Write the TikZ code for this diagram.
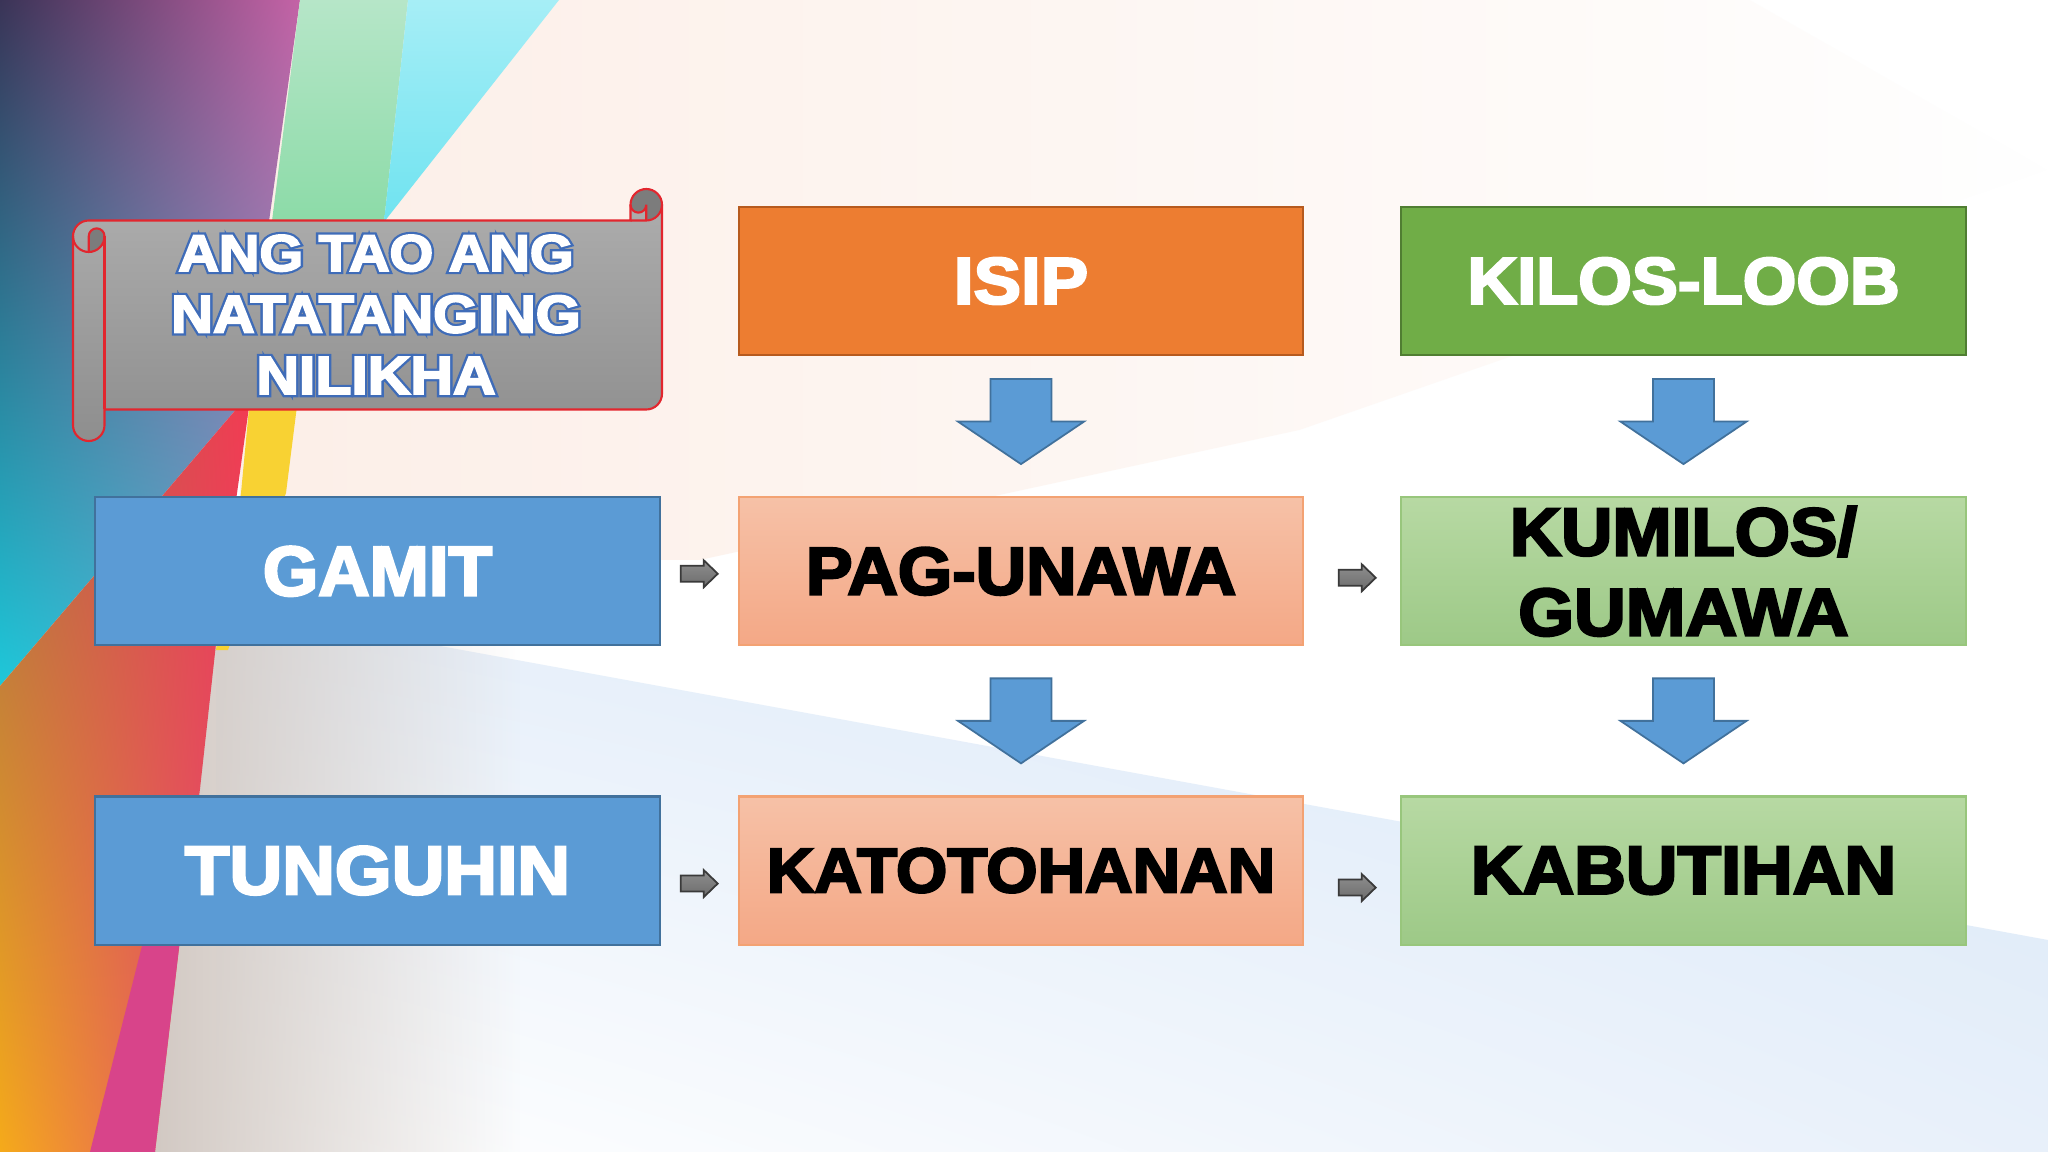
\documentclass[tikz,border=0pt]{standalone}
\usepackage{fontspec}
\usepackage{graphicx}
\usetikzlibrary{positioning, calc, fadings, shadings}
\newfontfamily\heavyfont{Liberation Sans Bold}[FakeBold=3.5]
\newfontfamily\outlinefont{Liberation Sans Bold}[FakeBold=12]
\newcommand{\fitword}[3]{\resizebox{#1}{#2}{\heavyfont #3}}
\newcommand{\outlineword}[3]{\makebox[0pt][l]{\textcolor{tituloguhit}{\resizebox{#1}{#2}{\outlinefont #3}}}\fitword{#1}{#2}{#3}}

\definecolor{isipkahel}{HTML}{ED7D31}
\definecolor{isipguhit}{HTML}{B65A1E}
\definecolor{loobberde}{HTML}{70AD47}
\definecolor{loobguhit}{HTML}{507E32}
\definecolor{gamitasul}{HTML}{5B9BD5}
\definecolor{gamitguhit}{HTML}{41719C}
\definecolor{unawataas}{HTML}{F6C1A7}
\definecolor{unawababa}{HTML}{F4A886}
\definecolor{unawaguhit}{HTML}{F3A273}
\definecolor{kilostaas}{HTML}{B7D9A3}
\definecolor{kilosbaba}{HTML}{9DC987}
\definecolor{kilosguhit}{HTML}{98C67C}
\definecolor{abotaas}{HTML}{8E8E8E}
\definecolor{abobaba}{HTML}{6C6C6C}
\definecolor{aboguhit}{HTML}{3A3A3A}
\definecolor{tituloguhit}{HTML}{3F6CB8}
\definecolor{balumbontaas}{HTML}{AEAEAE}
\definecolor{balumbonbaba}{HTML}{8E8E8E}
\definecolor{balumbonkulot}{HTML}{7C7C7C}
\definecolor{balumbonguhit}{HTML}{E2262E}
% background colours
\definecolor{bgnavy}{HTML}{3A3457}
\definecolor{bgmagenta}{HTML}{C463A6}
\definecolor{bgcyan}{HTML}{1EC8DA}
\definecolor{bgsteel}{HTML}{6FA0C8}
\definecolor{bggreenlight}{HTML}{B6E6C8}
\definecolor{bggreen}{HTML}{7DD79C}
\definecolor{bgcyanlight}{HTML}{A6EEF6}
\definecolor{bgcyanwedge}{HTML}{6FE3F0}
\definecolor{bgbrown}{HTML}{A8684A}
\definecolor{bgred}{HTML}{F23C52}
\definecolor{bgorange}{HTML}{F5AA1A}
\definecolor{bgpinkred}{HTML}{E0407A}
\definecolor{bgpink}{HTML}{D8448A}
\definecolor{bgyellow}{HTML}{F8D233}
\definecolor{bgpeach}{HTML}{FCEBE2}
\definecolor{bgblue}{HTML}{D8E7F7}
\definecolor{bgbluelight}{HTML}{E8F0FA}
\definecolor{bgbeige}{HTML}{D2C9C3}

\tikzset{kahon/.style={rectangle, draw, line width=0.6pt, minimum width=5.64cm, minimum height=1.48cm, inner sep=0pt},
	asul/.style={kahon, fill=gamitasul, draw=gamitguhit, text=white},
	kahel/.style={kahon, fill=isipkahel, draw=isipguhit, text=white},
	berde/.style={kahon, fill=loobberde, draw=loobguhit, text=white},
	malabkahel/.style={kahon, top color=unawataas, bottom color=unawababa, draw=unawaguhit, text=black},
	malabberde/.style={kahon, top color=kilostaas, bottom color=kilosbaba, draw=kilosguhit, text=black},
	pababa/.pic={\draw[fill=gamitasul, draw=gamitguhit, line width=0.5pt] (-30.5,-42.5) -- (30.5,-42.5) -- (30.5,0) -- (63,0) -- (0,42.5) -- (-63,0) -- (-30.5,0) -- cycle;},
	pakanan/.pic={\draw[top color=abotaas, bottom color=abobaba, draw=aboguhit, line width=0.5pt] (-18.5,-8) -- (4.5,-8) -- (4.5,-13.5) -- (18.5,0) -- (4.5,13.5) -- (4.5,8) -- (-18.5,8) -- cycle;} }

\begin{document}
\begin{tikzpicture}[x=0.01cm, y=-0.01cm]
	\useasboundingbox (0,0) rectangle (2048,1152);

	% background
	\fill[white] (0,0) rectangle (2048,1152);
	\fill[bgpeach, fill opacity=0.8, path fading=east] (240,0) -- (1750,0) -- (2048,170) -- (1300,430) -- (700,560) -- (240,560) -- cycle;
	\shade[upper left=bgbluelight, upper right=bgblue, lower left=white, lower right=bgbluelight] (216,605) -- (2048,940) -- (2048,1152) -- (216,1152) -- cycle;
	\fill[bgbeige, path fading=east] (205,640) -- (520,640) -- (520,1152) -- (155,1152) -- cycle;
	\shade[upper left=bgnavy, upper right=bgmagenta, lower left=bgcyan, lower right=bgsteel] (0,0) -- (300,0) -- (244,400) -- (0,686) -- cycle;
	\shade[top color=bggreenlight, bottom color=bggreen] (300,0) -- (408,0) -- (384,222) -- (375,300) -- (262,300) -- cycle;
	\shade[top color=bgcyanlight, bottom color=bgcyanwedge] (408,0) -- (559,0) -- (384,222) -- cycle;
	\shade[upper left=bgbrown, upper right=bgred, lower left=bgorange, lower right=bgpinkred] (0,686) -- (244,400) -- (250,400) -- (216,644) -- (200,789) -- (180,940) -- (155,1152) -- (0,1152) -- cycle;
	\fill[bgpink] (146,930) -- (181,930) -- (155,1152) -- (90,1152) -- cycle;
	\fill[bgyellow] (250,398) -- (298,398) -- (286,493) -- (228,650) -- (216,650) -- (241,493) -- cycle;

	% scroll
	\fill[top color=balumbontaas, bottom color=balumbonbaba] (73,236.25) arc[start angle=180, end angle=270, radius=15.75] -- (630.5,220.5) -- (630.5,204.75) arc[start angle=180, end angle=360, radius=15.75] -- (662,393.75) arc[start angle=0, end angle=90, radius=15.75] -- (104.5,409.5) -- (104.5,425.25) arc[start angle=0, end angle=180, radius=15.75] -- cycle;
	\fill[balumbonkulot] (88.75,252) arc[start angle=90, end angle=0, radius=15.75] arc[start angle=0, end angle=-180, radius=7.875] -- cycle;
	\fill[balumbonkulot] (646.25,220.5) arc[start angle=90, end angle=-180, radius=15.75] arc[start angle=180, end angle=0, radius=7.875] -- cycle;
	\draw[balumbonguhit, line width=0.6pt] (73,236.25) arc[start angle=180, end angle=270, radius=15.75] -- (630.5,220.5) -- (630.5,204.75) arc[start angle=180, end angle=360, radius=15.75] -- (662,393.75) arc[start angle=0, end angle=90, radius=15.75] -- (104.5,409.5) -- (104.5,425.25) arc[start angle=0, end angle=180, radius=15.75] -- cycle;
	\draw[balumbonguhit, line width=0.6pt] (630.5,220.5) -- (646.25,220.5) arc[start angle=90, end angle=0, radius=15.75];
	\draw[balumbonguhit, line width=0.6pt] (646.25,220.5) -- (646.25,204.75) arc[start angle=0, end angle=180, radius=7.875];
	\draw[balumbonguhit, line width=0.6pt] (88.75,252) -- (88.75,236.25) arc[start angle=180, end angle=360, radius=7.875] arc[start angle=0, end angle=180, radius=15.75];
	\draw[balumbonguhit, line width=0.6pt] (104.5,236.25) -- (104.5,409.5);

	\node (titulo) [align=center, text=white, font=\fontsize{14}{17.5}\selectfont] at (376,314.5)
		{\outlineword{3.95cm}{0.36cm}{ANG TAO ANG}\\
		 \outlineword{4.09cm}{0.37cm}{NATATANGING}\\
		 \outlineword{2.39cm}{0.37cm}{NILIKHA}};

	% boxes
	\node (isip) [kahel] at (1021,281) {\fitword{1.34cm}{0.46cm}{ISIP}};
	\node (kilosloob) [berde, right=0.96cm of isip] {\fitword{4.32cm}{0.46cm}{KILOS-LOOB}};
	\node (pagunawa) [malabkahel, below=1.40cm of isip] {\fitword{4.30cm}{0.47cm}{PAG-UNAWA}};
	\node (kumilos) [malabberde, below=1.40cm of kilosloob, align=center, font=\fontsize{20}{22.8}\selectfont]
		{\fitword{3.47cm}{0.49cm}{KUMILOS/}\\\fitword{3.30cm}{0.47cm}{GUMAWA}};
	\node (gamit) [asul, left=0.77cm of pagunawa] {\fitword{2.29cm}{0.49cm}{GAMIT}};
	\node (katotohanan) [malabkahel, below=1.49cm of pagunawa] {\fitword{5.08cm}{0.44cm}{KATOTOHANAN}};
	\node (kabutihan) [malabberde, below=1.49cm of kumilos] {\fitword{4.25cm}{0.47cm}{KABUTIHAN}};
	\node (tunguhin) [asul, left=0.77cm of katotohanan] {\fitword{3.85cm}{0.48cm}{TUNGUHIN}};

	% block arrows
	\pic at ($(isip.south)+(0,65.5)$) {pababa};
	\pic at ($(kilosloob.south)+(0,65.5)$) {pababa};
	\pic at ($(pagunawa.south)+(0,74.5)$) {pababa};
	\pic at ($(kumilos.south)+(0,74.5)$) {pababa};

	\pic at ($(gamit.east)!0.5!(pagunawa.west)+(0,2.5)$) {pakanan};
	\pic at ($(tunguhin.east)!0.5!(katotohanan.west)+(0,13)$) {pakanan};
	\pic at ($(pagunawa.east)!0.5!(kumilos.west)+(5,6.5)$) {pakanan};
	\pic at ($(katotohanan.east)!0.5!(kabutihan.west)+(5,17)$) {pakanan};
\end{tikzpicture}
\end{document}
